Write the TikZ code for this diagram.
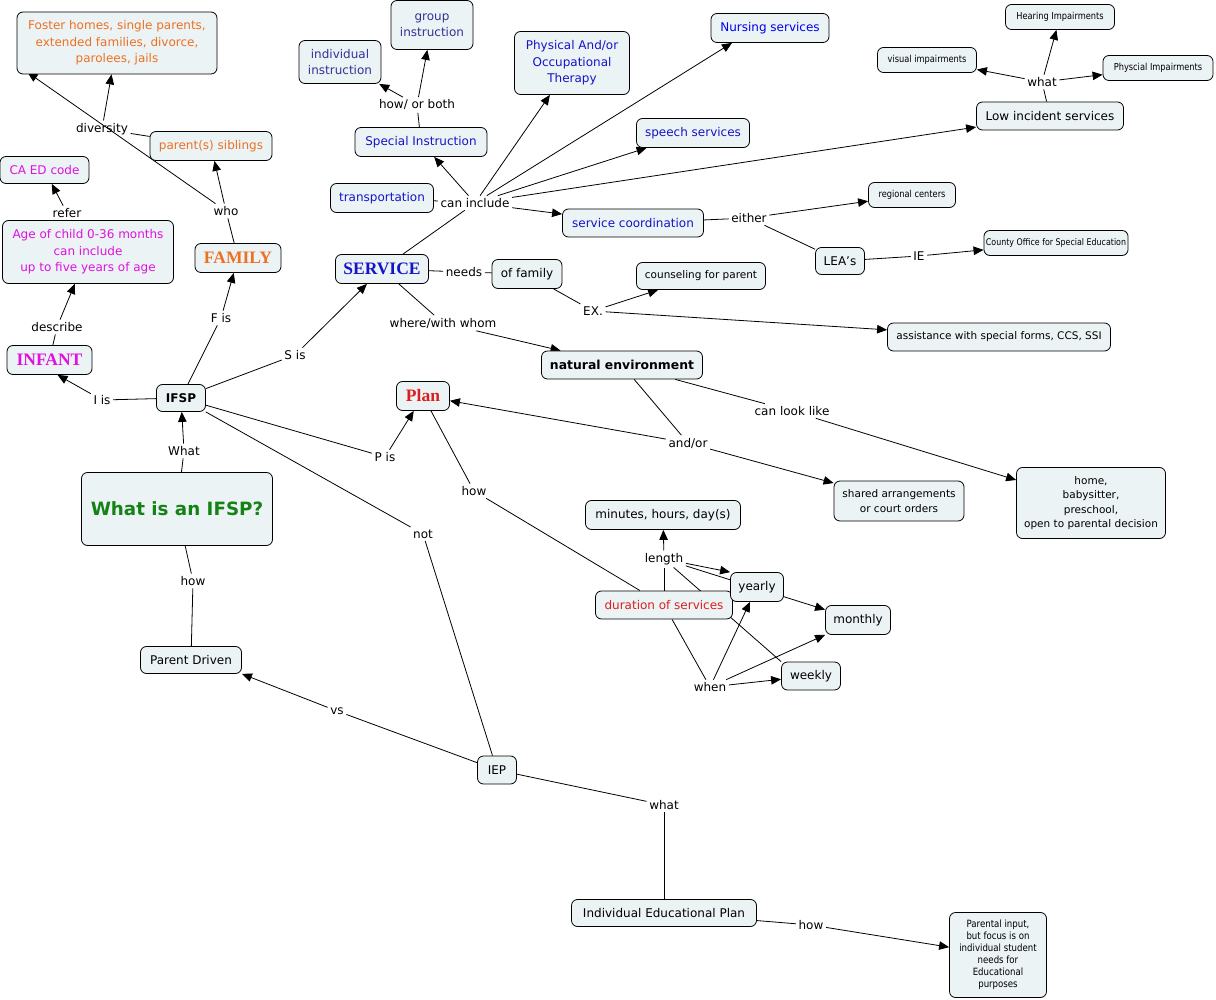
\documentclass[tikz,border=0pt]{standalone}
\usepackage{fontspec}
\setmainfont{DejaVu Sans}
\newfontfamily\serf{Liberation Serif}
\newfontfamily\condf[FakeStretch=0.86]{DejaVu Sans}
\usetikzlibrary{arrows.meta}
\pgfdeclarelayer{bg}\pgfsetlayers{bg,main}
\definecolor{boxfill}{RGB}{236,243,245}
\definecolor{orng}{RGB}{238,112,34}
\definecolor{magn}{RGB}{224,16,224}
\definecolor{svblue}{RGB}{20,20,200}
\definecolor{brblue}{RGB}{0,0,240}
\definecolor{slblue}{RGB}{50,50,150}
\definecolor{grn}{RGB}{20,130,20}
\definecolor{rd}{RGB}{222,30,30}
\tikzset{
  concept/.style={draw=black, line width=0.8pt, rounded corners=6pt, fill=boxfill, align=center, inner sep=2pt, font=\fontsize{12}{16.5}\selectfont},
  sz/.style 2 args={minimum width=#1pt, minimum height=#2pt},
  lp/.style={inner sep=2.5pt, font=\fontsize{12}{14}\selectfont},
  conn/.style={draw=black, line width=0.8pt},
  arr/.style={conn, -{Triangle[length=10pt,width=8.5pt]}},
  tiny/.style={font=\condf\fontsize{9.6}{11}\selectfont},
  small/.style={font=\fontsize{10.5}{14.5}\selectfont},
  title/.style={font=\serf\bfseries\fontsize{17.5}{19}\selectfont},
  bold/.style={font=\bfseries\fontsize{12.4}{14}\selectfont}
}
\begin{document}
\begin{tikzpicture}[x=1pt,y=-1pt]
\useasboundingbox (0,0) rectangle (1216,1000);
% concepts
\node[concept, sz={200}{62}, text=orng] (foster) at (117,43) {Foster homes, single parents,\\extended families, divorce,\\parolees, jails};
\node[concept, sz={122}{29}, text=orng] (sibl) at (211,146) {parent(s) siblings};
\node[concept, sz={89}{27}, text=magn] (caed) at (44.5,170) {CA ED code};
\node[concept, sz={171}{63}, text=magn] (age) at (88,252) {Age of child 0-36 months\\can include\\up to five years of age};
\node[concept, sz={86}{29}, text=orng, title] (family) at (238,258) {FAMILY};
\node[concept, sz={85}{29}, text=magn, title] (infant) at (49.5,360) {INFANT};
\node[concept, sz={49}{27}, bold, font=\bfseries\fontsize{12}{14}\selectfont] (ifsp) at (181,398) {IFSP};
\node[concept, sz={191}{73}, text=grn, font=\bfseries\fontsize{18.3}{20}\selectfont] (whatis) at (177,509) {What is an IFSP?};
\node[concept, sz={101}{27}] (pdriven) at (191,660) {Parent Driven};
\node[concept, sz={39}{28}] (iep) at (497,770) {IEP};
\node[concept, sz={185}{27}] (iedp) at (664,913) {Individual Educational Plan};
\node[concept, sz={97}{85}, font=\condf\fontsize{10}{12}\selectfont] (pinput) at (998,955) {Parental input,\\but focus is on\\individual student\\needs for\\Educational\\purposes};
\node[concept, sz={53}{29}, text=rd, title] (plan) at (423,396) {Plan};
\node[concept, sz={93}{29}, text=svblue, title] (service) at (382,269) {SERVICE};
\node[concept, sz={70}{29}] (offam) at (527,274) {of family};
\node[concept, sz={129}{27}, small] (couns) at (701,276) {counseling for parent};
\node[concept, sz={223}{28}, small] (assist) at (999,337) {assistance with special forms, CCS, SSI};
\node[concept, sz={161}{28}, bold] (natenv) at (622,365) {natural environment};
\node[concept, sz={130}{40}, small] (shared) at (899,501) {shared arrangements\\or court orders};
\node[concept, sz={149}{71}, small] (home) at (1091,503) {home,\\babysitter,\\preschool,\\open to parental decision};
\node[concept, sz={155}{29}] (minutes) at (663,515) {minutes, hours, day(s)};
\node[concept, sz={137}{28}, text=rd] (duration) at (664,605) {duration of services};
\node[concept, sz={53}{29}] (yearly) at (757,587) {yearly};
\node[concept, sz={65}{29}] (monthly) at (858,620) {monthly};
\node[concept, sz={59}{28}] (weekly) at (811,676) {weekly};
\node[concept, sz={103}{29}, text=svblue] (transp) at (382,198) {transportation};
\node[concept, sz={132}{29}, text=svblue] (special) at (421,142) {Special Instruction};
\node[concept, sz={82}{43}, text=slblue] (indiv) at (340,62) {individual\\instruction};
\node[concept, sz={82}{49}, text=slblue] (group) at (432,25) {group\\instruction};
\node[concept, sz={115}{63}, text=svblue] (phys) at (572,63) {Physical And/or\\Occupational\\Therapy};
\node[concept, sz={118}{29}, text=brblue] (nursing) at (770,28) {Nursing services};
\node[concept, sz={113}{29}, text=svblue] (speech) at (693,133) {speech services};
\node[concept, sz={141}{28}, text=svblue] (servco) at (633,223) {service coordination};
\node[concept, sz={147}{28}] (lowinc) at (1050,116) {Low incident services};
\node[concept, sz={99}{25}, tiny] (visual) at (927,60) {visual impairments};
\node[concept, sz={109}{25}, tiny] (hearing) at (1060,17) {Hearing Impairments};
\node[concept, sz={110}{25}, tiny] (physi) at (1158,68) {Physcial Impairments};
\node[concept, sz={87}{25}, tiny] (regional) at (912,195) {regional centers};
\node[concept, sz={49}{27}] (leas) at (840,261) {LEA's};
\node[concept, sz={143}{25}, font=\condf\fontsize{9.2}{11}\selectfont] (county) at (1056,243) {County Office for Special Education};
% linking phrases
\node[lp] (diversity) at (102,129) {diversity};
\node[lp] (who) at (226,211) {who};
\node[lp] (refer) at (67,213) {refer};
\node[lp] (describe) at (57,327) {describe};
\node[lp] (Fis) at (221,318) {F is};
\node[lp] (Iis) at (102,400) {I is};
\node[lp] (Sis) at (295,355) {S is};
\node[lp] (What) at (184,451) {What};
\node[lp] (Pis) at (385,457) {P is};
\node[lp] (not) at (423,534) {not};
\node[lp] (howA) at (193,581) {how};
\node[lp] (vs) at (337,711) {vs};
\node[lp] (whatB) at (664,805) {what};
\node[lp] (howB) at (811,925) {how};
\node[lp] (howboth) at (417,105) {how/ or both};
\node[lp] (caninc) at (475,203) {can include};
\node[lp] (needs) at (464,272) {needs};
\node[lp] (ex) at (593,311) {EX.};
\node[lp] (where) at (443,323) {where/with whom};
\node[lp] (either) at (749,218) {either};
\node[lp] (IE) at (919,256) {IE};
\node[lp] (whatA) at (1042,82) {what};
\node[lp] (andor) at (688,443) {and/or};
\node[lp] (canlook) at (792,411) {can look like};
\node[lp] (howC) at (474,491) {how};
\node[lp] (length) at (664,559) {length};
\node[lp] (when) at (710,687) {when};
\begin{pgfonlayer}{bg}
% family branch
\draw[conn] (family) -- (who);
\draw[arr] (who) -- (sibl);
\draw[arr] (who) -- ([xshift=11pt,yshift=2pt]foster.south west);
\draw[conn] (sibl) -- (diversity);
\draw[arr] (diversity) -- (foster);
\draw[conn] (age) -- (refer);
\draw[arr] (refer) -- (caed);
\draw[conn] (infant) -- (describe);
\draw[arr] (describe) -- (age);
% IFSP
\draw[conn] (ifsp) -- (Iis);
\draw[arr] (Iis) -- ([xshift=8pt]infant.south);
\draw[conn] (ifsp) -- (Fis);
\draw[arr] (Fis) -- (family);
\draw[conn] (ifsp) -- (Sis);
\draw[arr] (Sis) -- (service);
\draw[conn] (ifsp) -- (Pis);
\draw[arr] (Pis) -- (plan);
\draw[conn] (ifsp) -- (not);
\draw[conn] (not) -- (iep);
\draw[conn] (whatis) -- (What);
\draw[arr] (What) -- (ifsp);
\draw[conn] (pdriven) -- (howA);
\draw[conn] (howA) -- (whatis);
\draw[conn] (iep) -- (vs);
\draw[arr] (vs) -- (pdriven.south east);
\draw[conn] (iep) -- (whatB);
\draw[conn] (whatB) -- (iedp);
\draw[conn] (iedp) -- (howB);
\draw[arr] (howB) -- (pinput);
% service
\draw[conn] (service) -- (caninc);
\draw[conn] (transp) -- (caninc);
\draw[arr] (caninc) -- (special);
\draw[arr] (caninc) -- (phys);
\draw[arr] (caninc) -- ([xshift=-38pt]nursing.south);
\draw[arr] (caninc) -- (speech);
\draw[arr] (caninc) -- (lowinc);
\draw[arr] (caninc) -- (servco);
\draw[conn] (special) -- (howboth);
\draw[arr] (howboth) -- (group);
\draw[arr] (howboth) -- (indiv);
\draw[conn] (servco) -- (either);
\draw[arr] (either) -- (regional);
\draw[conn] (either) -- (leas);
\draw[conn] (leas) -- (IE);
\draw[arr] (IE) -- (county);
\draw[conn] (lowinc) -- (whatA);
\draw[arr] (whatA) -- (hearing);
\draw[arr] (whatA) -- (visual);
\draw[arr] (whatA) -- (physi);
\draw[conn] (service) -- (needs);
\draw[conn] (needs) -- (offam);
\draw[conn] (offam) -- (ex);
\draw[arr] (ex) -- (couns);
\draw[arr] (ex) -- (assist);
\draw[conn] (service) -- (where);
\draw[arr] (where) -- (natenv);
\draw[conn] (natenv) -- (andor);
\draw[arr] (andor) -- (plan);
\draw[arr] (andor) -- (shared);
\draw[conn] (natenv) -- (canlook);
\draw[arr] (canlook) -- (home);
% plan
\draw[conn] (plan) -- (howC);
\draw[conn] (howC) -- (duration);
\draw[conn] (duration) -- (length);
\draw[arr] (length) -- (minutes);
\draw[arr] (length) -- (yearly.north west);
\draw[arr] (length) -- (monthly);
\draw[conn] (length) -- (weekly.north west);
\draw[conn] (duration) -- (when);
\draw[arr] (when) -- (yearly);
\draw[arr] (when) -- (monthly);
\draw[arr] (when) -- (weekly);
\end{pgfonlayer}
\end{tikzpicture}
\end{document}
